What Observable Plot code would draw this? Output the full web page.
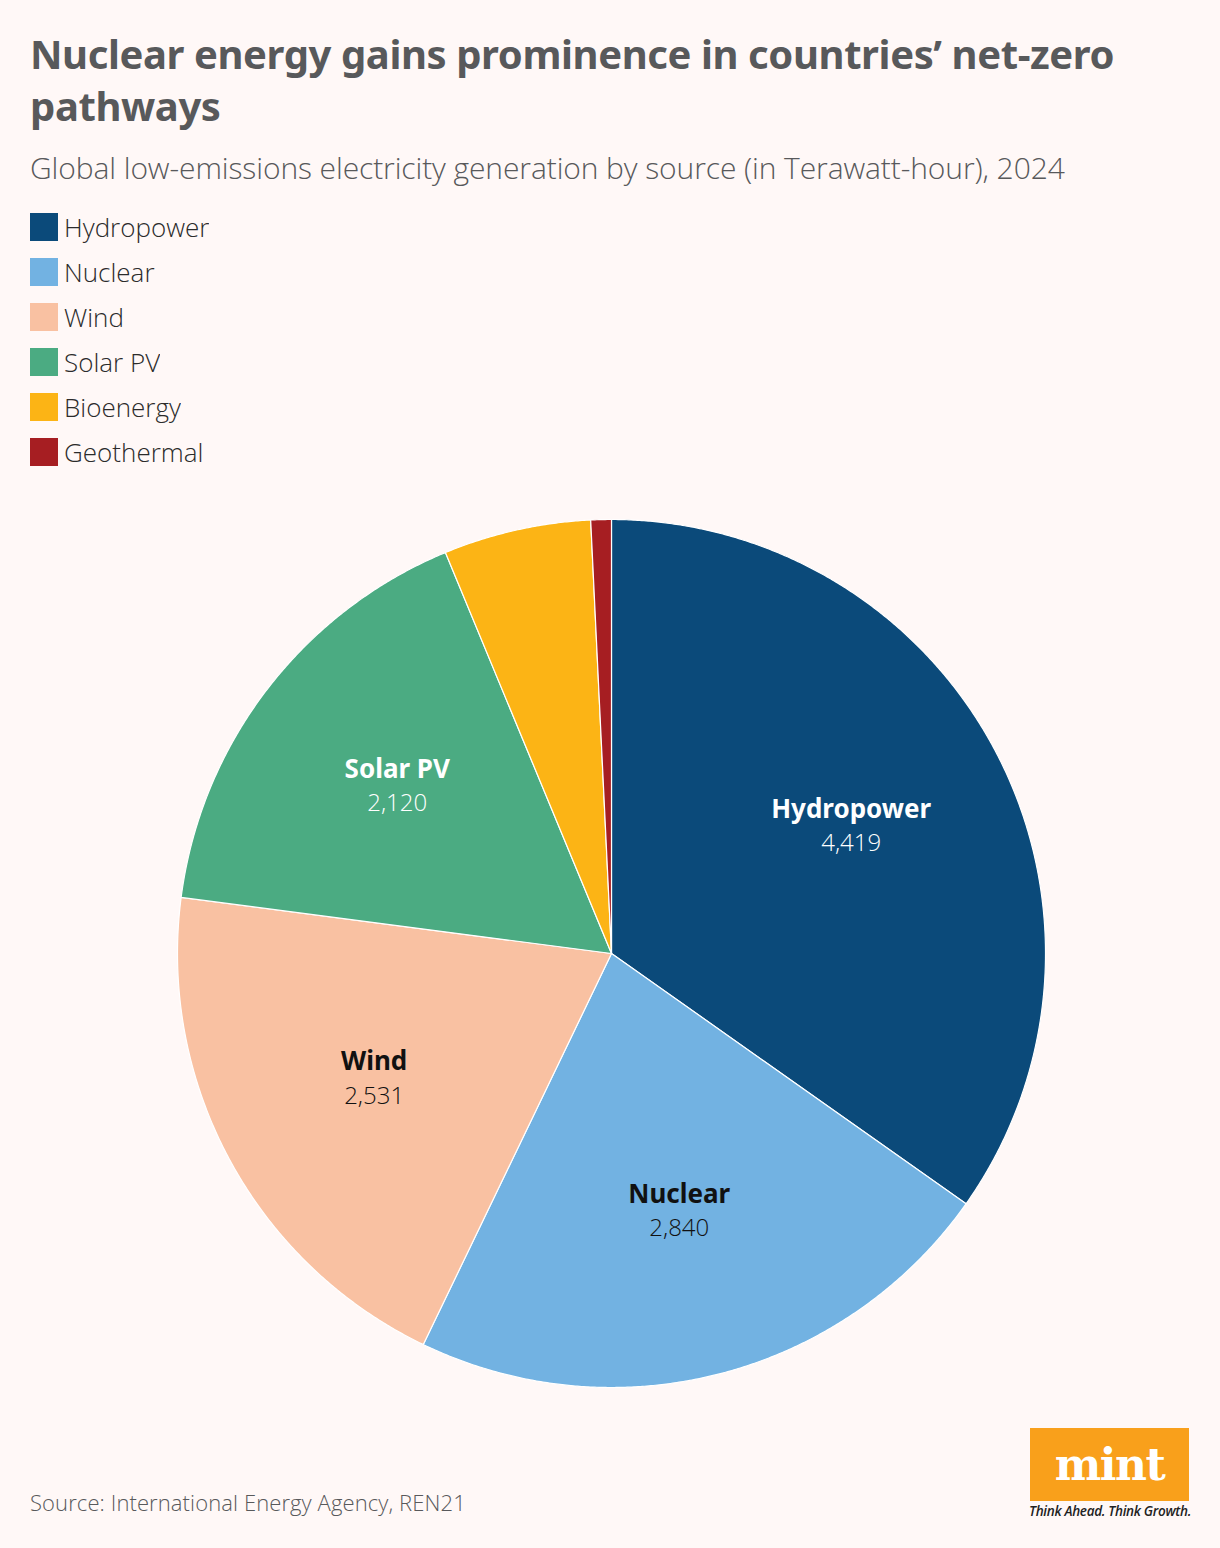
<!DOCTYPE html>
<html>
<head>
<meta charset="utf-8">
<script src="https://cdn.jsdelivr.net/npm/d3@7"></script>
<script src="https://cdn.jsdelivr.net/npm/@observablehq/plot@0.6"></script>
<style>
  html, body { margin: 0; padding: 0; }
  body { width: 1220px; height: 1548px; background: #fff8f7; position: relative; overflow: hidden; font-family: "Open Sans", "Noto Sans", sans-serif; }
  #title { position: absolute; left: 30px; top: 28px; width: 1150px; font-family: "Noto Sans", sans-serif; font-weight: 700; font-size: 40px; line-height: 52px; color: #58595b; letter-spacing: -0.4px; }
  #subtitle { position: absolute; left: 30px; top: 148px; font-family: "Open Sans", sans-serif; font-weight: 300; font-size: 30px; line-height: 40px; color: #58595b; letter-spacing: -0.1px; }
  #legend { position: absolute; left: 30px; top: 205px; }
  #chart { position: absolute; left: 0px; top: 513px; }
  #source { position: absolute; left: 30px; top: 1487px; font-family: "Open Sans", sans-serif; font-weight: 300; font-size: 22px; color: #58595b; letter-spacing: 0.1px; }
  #logo { position: absolute; left: 1030px; top: 1428px; width: 159px; height: 73px; background: #f9a01b; color: #fff; display: flex; align-items: center; justify-content: center; font-family: "DejaVu Serif", serif; font-weight: 700; font-size: 44px; letter-spacing: -1.5px; }
  #tagline { position: absolute; left: 1027px; top: 1502px; width: 166px; text-align: center; font-family: "Open Sans", sans-serif; font-style: italic; font-weight: 600; font-size: 13.5px; color: #222; letter-spacing: -0.3px; }
  .lg-swatch { height: 44px; padding-bottom: 1px; font-size: 26px !important; color: #2b2b2b; }
  .lg-swatch svg { margin-right: 6px !important; }
</style>
</head>
<body>
<div id="title">Nuclear energy gains prominence in countries’ net-zero pathways</div>
<div id="subtitle">Global low-emissions electricity generation by source (in Terawatt-hour), 2024</div>
<div id="legend"></div>
<div id="chart"></div>
<div id="source">Source: International Energy Agency, REN21</div>
<div id="logo">mint</div>
<div id="tagline">Think Ahead. Think Growth.</div>
<script>
const sources = ["Hydropower", "Nuclear", "Wind", "Solar PV", "Bioenergy", "Geothermal"];
const values = [4419, 2840, 2531, 2120, 697, 97];
const colors = ["#0b4a7a", "#72b2e2", "#f9c1a2", "#4bab82", "#fcb415", "#a61e22"];
const labelColors = ["#ffffff", "#111111", "#111111", "#ffffff", null, null];
const labelled = ["Hydropower", "Nuclear", "Wind", "Solar PV"];

const data = sources.map((s, i) => ({source: s, value: values[i]}));
const arcs = d3.pie().sort(null).value(d => d.value)(data);

// slice polygons in unit-circle coordinates (screen orientation: y down)
function slicePolygon(a) {
  const steps = Math.max(4, Math.ceil((a.endAngle - a.startAngle) / 0.005));
  const ring = [[0, 0]];
  for (let k = 0; k <= steps; k++) {
    const t = a.startAngle + (a.endAngle - a.startAngle) * k / steps;
    ring.push([Math.sin(t), -Math.cos(t)]);
  }
  ring.push([0, 0]);
  return {type: "Feature", properties: {source: a.data.source, value: a.data.value}, geometry: {type: "Polygon", coordinates: [ring]}};
}
const slices = arcs.map(slicePolygon);
const labelR = 0.622;
const labels = arcs.filter(a => labelled.includes(a.data.source)).map(a => {
  const m = (a.startAngle + a.endAngle) / 2;
  const i = sources.indexOf(a.data.source);
  return {source: a.data.source, value: a.data.value, x: labelR * Math.sin(m), y: -labelR * Math.cos(m), fill: labelColors[i]};
});

const domain = {type: "Polygon", coordinates: [[[-1, -1], [1, -1], [1, 1], [-1, 1], [-1, -1]]]};

const chart = Plot.plot({
  width: 1220,
  height: 880,
  marginLeft: 177,
  marginRight: 175,
  marginTop: 6,
  marginBottom: 6,
  style: {background: "transparent", overflow: "visible"},
  projection: {type: "identity", domain},
  color: {domain: sources, range: colors},
  marks: [
    Plot.geo(slices, {fill: d => d.properties.source, stroke: "#ffffff", strokeWidth: 1.2, strokeLinejoin: "round"}),
    Plot.text(labels, {x: "x", y: "y", text: "source", fill: "fill", dy: -20, fontSize: 26, fontWeight: 700, fontFamily: "Noto Sans", letterSpacing: "-0.3px"}),
    Plot.text(labels, {x: "x", y: "y", text: d => d3.format(",")(d.value), fill: "fill", dy: 14, fontSize: 24, fontWeight: 300, fontFamily: "Open Sans"})
  ]
});
document.getElementById("chart").appendChild(chart);

const legend = Plot.legend({
  color: {domain: sources, range: colors},
  columns: 1,
  swatchSize: 28,
  className: "lg",
  style: {fontSize: "26px", fontFamily: "Open Sans", fontWeight: 300, background: "transparent"}
});
document.getElementById("legend").appendChild(legend);
</script>
</body>
</html>
